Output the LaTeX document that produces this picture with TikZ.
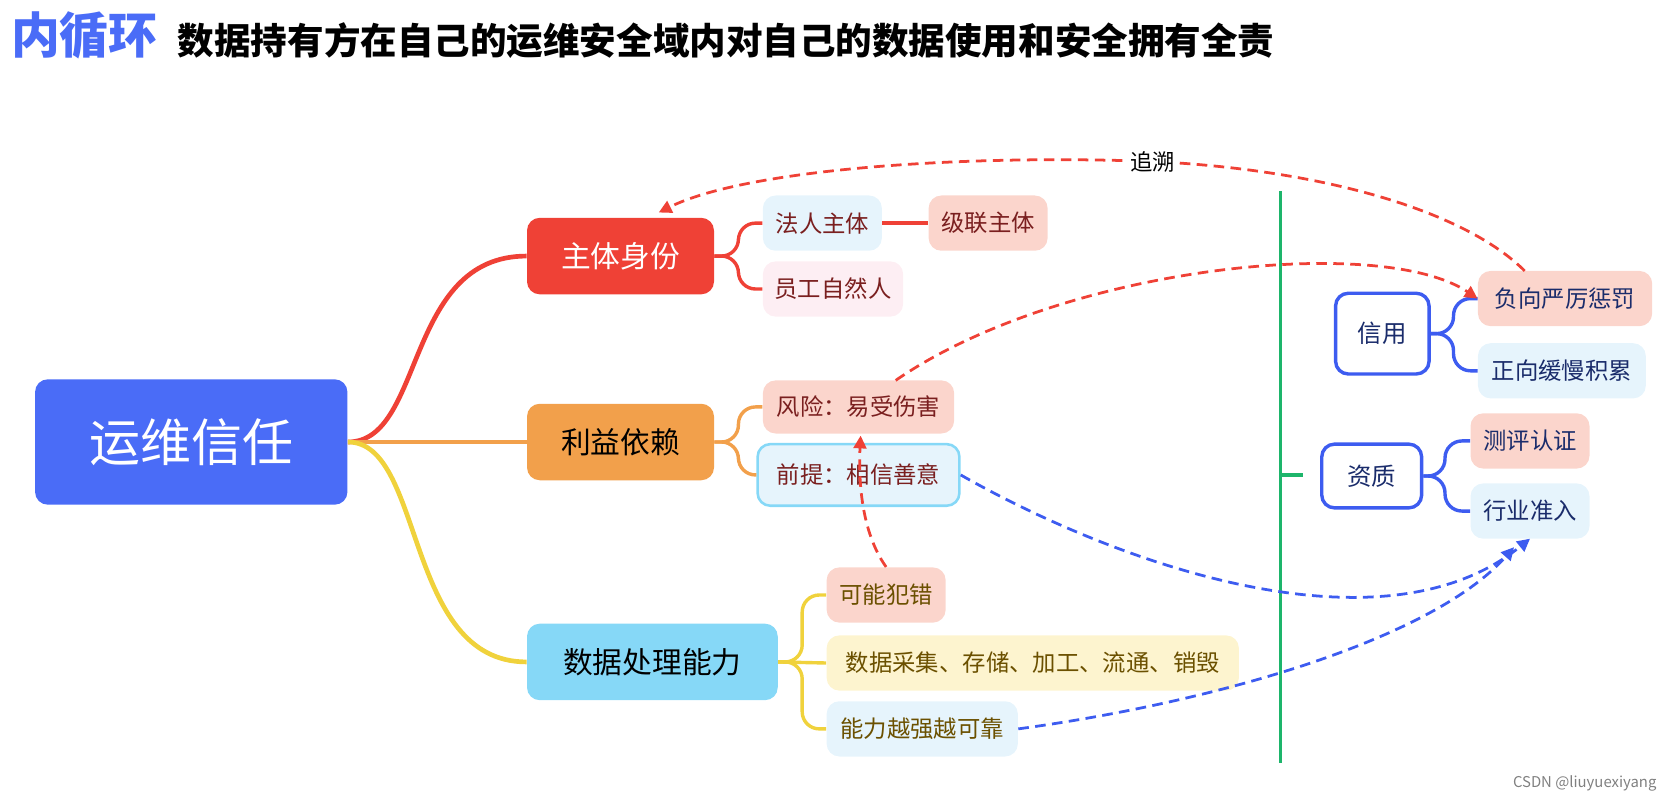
\documentclass[tikz,border=0pt]{standalone}
\usepackage{fontspec}
\setmainfont{Noto Sans CJK SC}
\usetikzlibrary{arrows.meta}
\definecolor{bl}{HTML}{4A6CF7}
\definecolor{rd}{HTML}{EF4136}
\definecolor{og}{HTML}{F2A04B}
\definecolor{yl}{HTML}{F0D23C}
\definecolor{lb}{HTML}{86D8F7}
\definecolor{pk}{HTML}{FBD5CC}
\definecolor{lp}{HTML}{FDEEF3}
\definecolor{ly}{HTML}{FDF4CF}
\definecolor{lbb}{HTML}{E6F4FC}
\definecolor{bb}{HTML}{3D5CF0}
\definecolor{gr}{HTML}{1DB56B}
\definecolor{dr}{HTML}{7A1F1F}
\definecolor{dy}{HTML}{6B5000}
\definecolor{dd}{HTML}{1A2C6B}
\tikzset{
 box/.style={rounded corners=6pt,inner sep=0pt,align=center},
 leaf/.style={box,font=\fontsize{11}{13}\selectfont},
 mid/.style={box,font=\fontsize{14}{16}\selectfont},
 qbox/.style={box,draw=bb,line width=1.6pt,fill=white,text=dd,font=\fontsize{11.5}{13}\selectfont},
 dsh/.style={dash pattern=on 5pt off 3pt,line width=1.3pt,-{Triangle[length=6pt,width=6pt]}},
}
\begin{document}
\begin{tikzpicture}[x=0.5pt,y=-0.5pt]
\useasboundingbox (0,0) rectangle (1568,754);
\node[anchor=west,text=bl,font=\fontsize{23}{25}\selectfont\bfseries,inner sep=0pt] (t1) at (10,33) {内循环};
\node[anchor=west,font=\fontsize{17.2}{19}\selectfont\bfseries,inner sep=0pt] (t2) at (167,38) {数据持有方在自己的运维安全域内对自己的数据使用和安全拥有全责};
% main nodes
\node[box,fill=bl,text=white,minimum width=147pt,minimum height=59pt,font=\fontsize{24}{26}\selectfont] (root) at (180,416) {运维信任};
\node[mid,fill=rd,text=white,minimum width=88pt,minimum height=36pt] (a) at (584,241) {主体身份};
\node[mid,fill=og,text=black,minimum width=88pt,minimum height=36pt] (b) at (584,416) {利益依赖};
\node[mid,fill=lb,text=black,minimum width=118pt,minimum height=36pt] (c) at (614,623) {数据处理能力};
% leaves
\node[leaf,fill=lbb,text=dr,minimum width=56pt,minimum height=26pt] (a1) at (774,210) {法人主体};
\node[leaf,fill=pk,text=dr,minimum width=56pt,minimum height=26pt] (a3) at (930,210) {级联主体};
\node[leaf,fill=lp,text=dr,minimum width=66pt,minimum height=26pt] (a2) at (784,272) {员工自然人};
\node[leaf,fill=pk,text=dr,minimum width=90pt,minimum height=25pt] (b1) at (808,383) {风险：易受伤害};
\node[leaf,fill=lbb,draw=lb,line width=1.2pt,text=dr,minimum width=95pt,minimum height=29pt] (b2) at (808,447) {前提：相信善意};
\node[leaf,fill=pk,text=dy,minimum width=56pt,minimum height=26pt] (c1) at (834,560) {可能犯错};
\node[leaf,fill=ly,text=dy,minimum width=194pt,minimum height=26pt] (c2) at (972,624) {数据采集、存储、加工、流通、销毁};
\node[leaf,fill=lbb,text=dy,minimum width=90pt,minimum height=26pt] (c3) at (868,686) {能力越强越可靠};
% right side
\coordinate (g1) at (1205,180);
\coordinate (g2) at (1205,718);
\coordinate (g3) at (1205,447);
\coordinate (g4) at (1226,447);
\draw[gr,line width=1.6pt] (g1) -- (g2);
\draw[gr,line width=1.6pt] (g3) -- (g4);
\node[qbox,minimum width=44pt,minimum height=38pt] (x) at (1301,314) {信用};
\node[leaf,fill=pk,text=dd,minimum width=82pt,minimum height=26pt] (x1) at (1473,281) {负向严厉惩罚};
\node[leaf,fill=lbb,text=dd,minimum width=79pt,minimum height=26pt] (x2) at (1470,349) {正向缓慢积累};
\node[qbox,minimum width=47pt,minimum height=30pt] (y) at (1291,448) {资质};
\node[leaf,fill=pk,text=dd,minimum width=56pt,minimum height=26pt] (y1) at (1440,415) {测评认证};
\node[leaf,fill=lbb,text=dd,minimum width=56pt,minimum height=26pt] (y2) at (1440,481) {行业准入};
% trunk connectors
\draw[rd,line width=2.2pt] (root.east) .. controls (400,416) and (380,241) .. (a.west);
\draw[og,line width=2.2pt] (root.east) -- (b.west);
\draw[yl,line width=2.2pt] (root.east) .. controls (400,416) and (380,623) .. (c.west);
% brackets
\tikzset{br/.style={line width=1.6pt,rounded corners=8pt}}
\draw[rd,br] (a.east) -- (695,241) |- (a1.west);
\draw[rd,br] (a.east) -- (695,241) |- (a2.west);
\draw[rd,line width=1.6pt] (a1.east) -- (a3.west);
\draw[og,br] (b.east) -- (695,416) |- (b1.west);
\draw[og,br] (b.east) -- (695,416) |- (b2.west);
\draw[yl,br] (c.east) -- (755,623) |- (c1.west);
\draw[yl,br] (c.east) -- (c2.west);
\draw[yl,br] (c.east) -- (755,623) |- (c3.west);
\draw[bb,br] (x.east) -- (1368,314) |- (x1.west);
\draw[bb,br] (x.east) -- (1368,314) |- (x2.west);
\draw[bb,br] (y.east) -- (1360,448) |- (y1.west);
\draw[bb,br] (y.east) -- (1360,448) |- (y2.west);
% dashed
\draw[dsh,rd] (1435,255) .. controls (1380,200) and (1250,160) .. (1085,152)
  node[fill=white,text=black,font=\fontsize{10.5}{12}\selectfont,inner sep=2pt] (lab) {追溯}
  .. controls (900,145) and (700,160) .. (620,200);
\draw[dsh,rd] (843,358) .. controls (1000,250) and (1300,220) .. (x1.west);
\draw[dsh,rd] (c1.north) .. controls (810,500) and (808,450) .. (810,410);
\draw[dsh,bb] (b2.east) .. controls (1050,530) and (1300,620) .. (1440,507);
\draw[dsh,bb] (c3.east) .. controls (1150,660) and (1350,600) .. (1425,515);
\node[anchor=south east,text=gray,font=\fontsize{7}{8}\selectfont] (wm) at (1566,752) {CSDN @liuyuexiyang};
\end{tikzpicture}
\end{document}
